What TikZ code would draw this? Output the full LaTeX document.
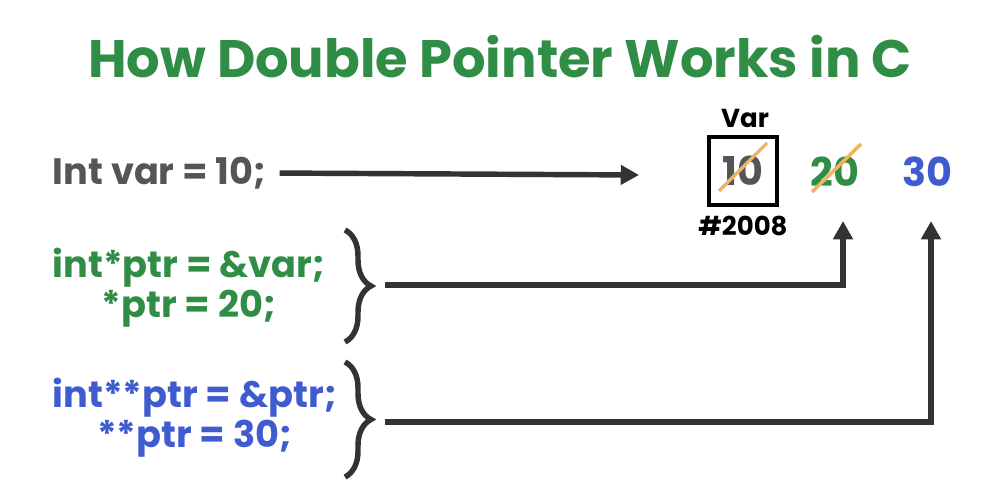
\documentclass[tikz,border=0pt]{standalone}
\usepackage{fontspec}
\setmainfont{Poppins}
\usepackage{tikz}
\usetikzlibrary{decorations.pathreplacing}
\usetikzlibrary{arrows.meta}
\definecolor{gfggreen}{HTML}{2F8D46}
\definecolor{ptrblue}{HTML}{3F5BD0}
\definecolor{codegray}{HTML}{555555}
\definecolor{darkline}{HTML}{333333}
\definecolor{strikeorange}{HTML}{EFB55C}

\begin{document}
\begin{tikzpicture}[line width=1.55pt, draw=darkline]
	\tikzstyle{code}=[font=\bfseries\fontsize{10.45}{11.4}\selectfont, align=center, inner sep=0pt, anchor=west]
	\tikzstyle{value}=[font=\bfseries\fontsize{11.3}{12}\selectfont, inner sep=0pt]
	\tikzstyle{annot}=[font=\bfseries\fontsize{7.4}{9}\selectfont, inner sep=0pt, text=black]
	\tikzstyle{connector}=[draw=darkline, -{Triangle[length=5.2pt,width=5.4pt]}]
	\tikzstyle{strike}=[draw=strikeorange, line width=1pt]
	\tikzstyle{brace}=[draw=darkline, decorate, decoration={brace,amplitude=0.26cm}]
	
	\useasboundingbox (0,0) rectangle (10,5);
	
	% Title
	\node[font=\bfseries\fontsize{15}{18}\selectfont, text=gfggreen] (title) at (5,4.43) {How Double Pointer Works in C};
	
	% Draw the code lines
	\node[code, text=codegray] (intvar) at (0.5,3.27) {Int var = 10;};
	\node[code, text=gfggreen] (ptr) at (0.5,2.12) {int*ptr = \&var;\\*ptr = 20;};
	\node[code, text=ptrblue] (ptrptr) at (0.5,0.82) {int**ptr = \&ptr;\\**ptr = 30;};
	
	% Draw the memory box and the values
	\node[value, draw=black, line width=1.4pt, minimum size=0.68cm, text=codegray] (ten) at (7.43,3.29) {10};
	\node[annot] (varname) at (7.45,3.82) {Var};
	\node[annot] (addr) at (7.43,2.74) {\#2008};
	\node[value, text=gfggreen] (twenty) at (8.35,3.28) {20};
	\node[value, text=ptrblue] (thirty) at (9.27,3.28) {30};
	
	% Strike the old values
	\draw[strike] ([shift={(-0.24,-0.20)}]ten.center) -- ([shift={(0.24,0.28)}]ten.center);
	\draw[strike] ([shift={(-0.23,-0.20)}]twenty.center) -- ([shift={(0.26,0.28)}]twenty.center);
	
	% Braces round the pointer code
	\draw[brace] (3.45,2.70) -- (3.45,1.58);
	\draw[brace] (3.45,1.38) -- (3.45,0.23);
	
	% Connector ends
	\coordinate (varin) at (6.39,3.25);
	\coordinate (tip1) at (3.85,2.15);
	\coordinate (tip2) at (3.85,0.78);
	\coordinate (twentyin) at (8.43,2.79);
	\coordinate (thirtyin) at (9.31,2.79);
	
	% Connect code with values
	\draw[connector, shorten <=3pt] (intvar.east) -- (varin);
	\draw[connector] (tip1) -| (twentyin);
	\draw[connector] (tip2) -| (thirtyin);
	
\end{tikzpicture}
\end{document}
